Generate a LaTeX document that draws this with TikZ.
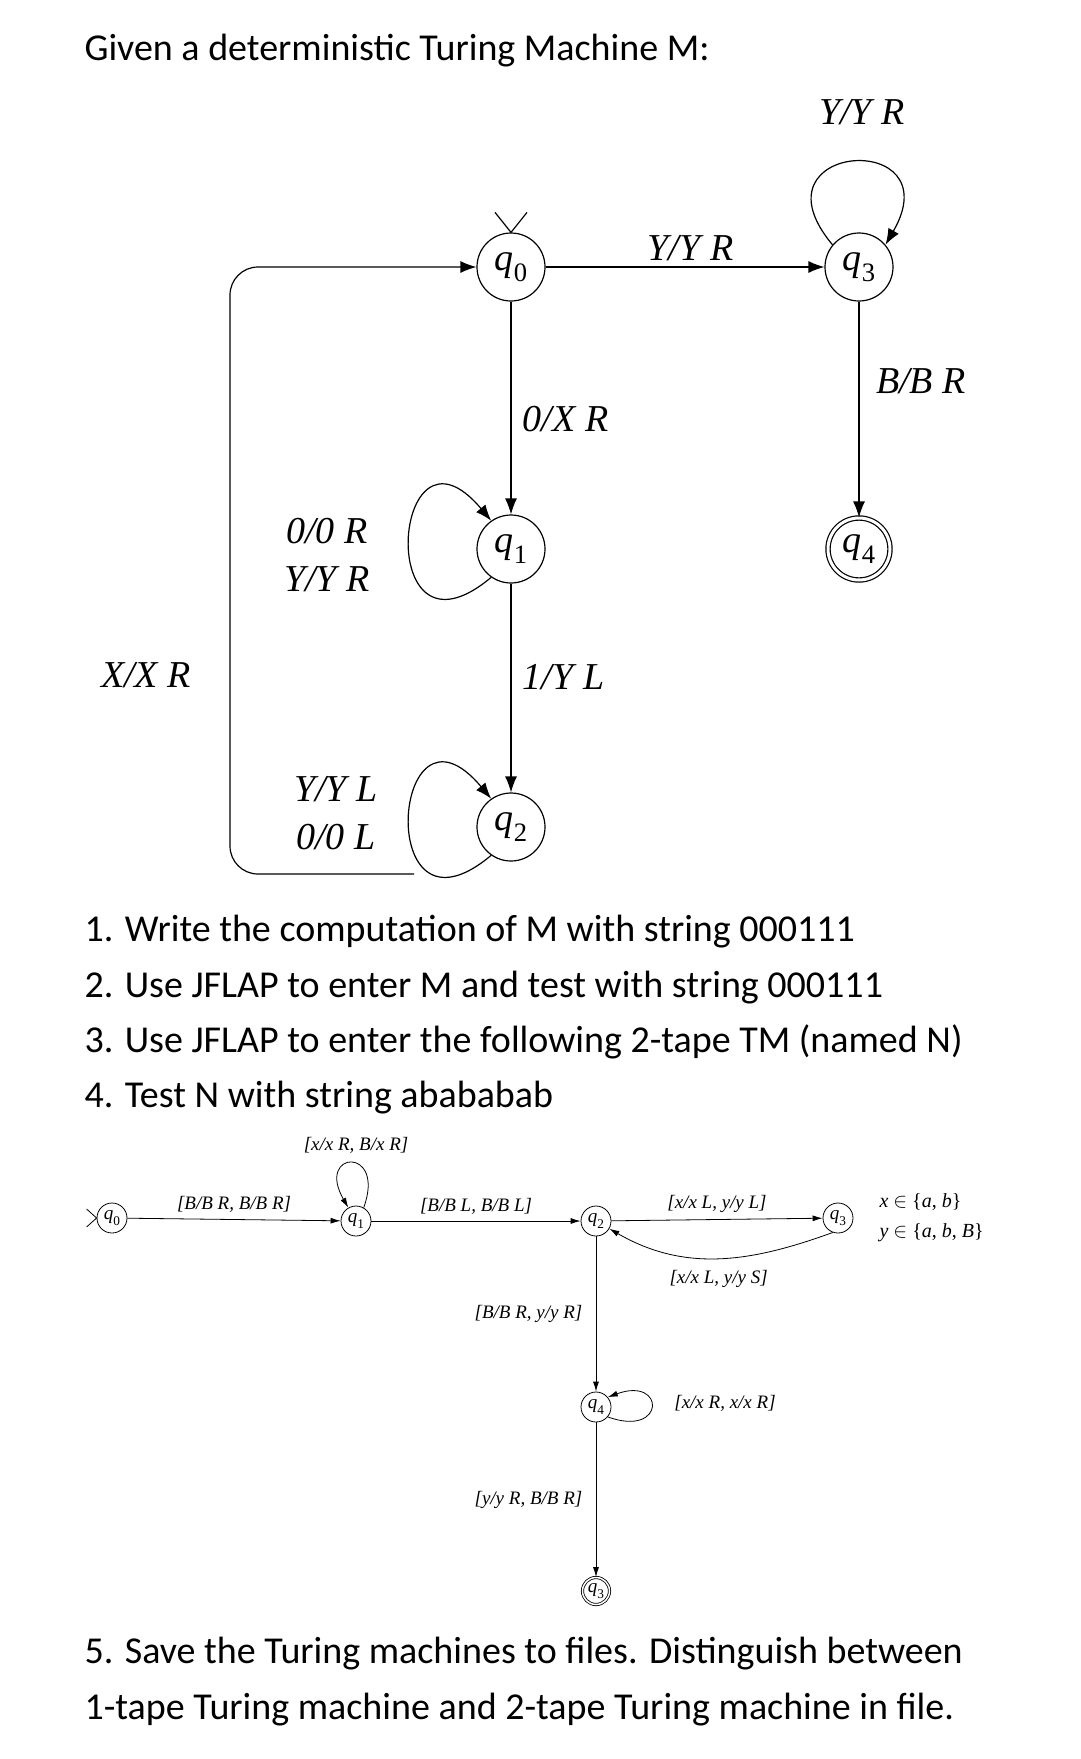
\documentclass[tikz,border=0pt]{standalone}
\usepackage{fontspec}
\setmainfont{Carlito}
\newfontfamily\labf{Liberation Serif}
\usetikzlibrary{arrows.meta,calc}
\newcommand{\qq}[1]{\textit{q}\raisebox{-0.3em}{\scalebox{0.7}{#1}}}
\begin{document}
\begin{tikzpicture}[x=1pt,y=-1pt,
  st/.style={circle,draw,line width=1.2pt,minimum size=68pt,inner sep=0pt,font=\labf\fontsize{38}{38}\selectfont},
  fs/.style={st,double,double distance=3pt,minimum size=62pt},
  sst/.style={circle,draw,line width=0.8pt,minimum size=30pt,inner sep=0pt,font=\labf\fontsize{19}{19}\selectfont},
  sfs/.style={sst,double,double distance=1.5pt,minimum size=27pt},
  ed/.style={line width=1.2pt,-{Latex[length=16pt,width=12pt]}},
  sed/.style={line width=0.8pt,-{Latex[length=10pt,width=6pt]}},
  lab/.style={font=\labf\itshape\fontsize{38}{42}\selectfont,align=left},
  slab/.style={font=\labf\itshape\fontsize{19}{19}\selectfont},
  txt/.style={anchor=base west,font=\fontsize{38}{42}\selectfont}]
\useasboundingbox (0,0) rectangle (1080,1759);
% texts
\node[txt] (t0) at (81,60) {Given a deterministic Turing Machine M:};
\node[txt] (t1) at (81,941) {1. Write the computation of M with string 000111};
\node[txt] (t2) at (81,997) {2. Use JFLAP to enter M and test with string 000111};
\node[txt] (t3) at (81,1052) {3. Use JFLAP to enter the following 2-tape TM (named N)};
\node[txt] (t4) at (81,1107) {4. Test N with string abababab};
\node[txt] (t5) at (81,1663) {5. Save the Turing machines to files. Distinguish between};
\node[txt] (t6) at (81,1719) {1-tape Turing machine and 2-tape Turing machine in file.};
% top TM
\node[st] (a0) at (511,267) {\qq{0}};
\node[st] (a1) at (511,549) {\qq{1}};
\node[st] (a2) at (511,827) {\qq{2}};
\node[st] (a3) at (859,267) {\qq{3}};
\node[fs] (a4) at (859,549) {\qq{4}};
\coordinate (s1) at ($(a0.north)+(-16,-20)$);
\coordinate (s2) at ($(a0.north)+(16,-20)$);
\draw[line width=1.2pt] (s1) -- (a0.north) -- (s2);
\draw[ed] (a0) -- node[lab,above=2pt,pos=0.52]{Y/Y R} (a3);
\draw[ed] (a0) -- node[lab,right=8pt,pos=0.55]{0/X R} (a1);
\draw[ed] (a1) -- node[lab,right=8pt,pos=0.45]{1/Y L} (a2);
\draw[ed] (a3) -- (a4);
\node[lab] (l34) at (921,381) {B/B R};
\draw[ed] (a3.140) to[out=130,in=60,looseness=6.5] (a3.40);
\node[lab] (l33) at (862,112) {Y/Y R};
\draw[ed] (a1.235) to[out=220,in=130,looseness=7] (a1.125);
\node[lab,align=center] (l11) at (327,555) {0/0 R\\[6pt]Y/Y R};
\draw[ed] (a2.235) to[out=220,in=130,looseness=7] (a2.125);
\node[lab,align=center] (l22) at (336,813) {Y/Y L\\[6pt]0/0 L};
\coordinate (c1) at (414,874);
\draw[ed,rounded corners=28pt] (c1) -- (230,874) -- (230,267) -- (a0.west);
\node[lab] (lx) at (146,675) {X/X R};
% bottom TM
\node[sst] (b0) at (112,1218) {\qq{0}};
\node[sst] (b1) at (356,1221) {\qq{1}};
\node[sst] (b2) at (596,1221) {\qq{2}};
\node[sst] (b3) at (838,1218) {\qq{3}};
\node[sst] (b4) at (596,1407) {\qq{4}};
\node[sfs] (b5) at (596,1591) {\qq{3}};
\draw[line width=0.8pt] ($(b0.west)+(-10,-9)$) -- (b0.west) -- ($(b0.west)+(-10,9)$);
\draw[sed] (b0) -- node[slab,above=3pt]{[B/B R, B/B R]} (b1);
\draw[sed] (b1) -- node[slab,above=3pt]{[B/B L, B/B L]} (b2);
\draw[sed] (b2) -- node[slab,above=3pt]{[x/x L, y/y L]} (b3);
\draw[sed] (b3.250) to[out=200,in=-30] node[slab,below=8pt]{[x/x L, y/y S]} (b2.-30);
\draw[sed] (b1.60) to[out=70,in=120,looseness=11] (b1.120);
\node[slab] (lb1) at (356,1145) {[x/x R, B/x R]};
\draw[sed] (b2) -- node[slab,left=10pt]{[B/B R, y/y R]} (b4);
\draw[sed] (b4.-40) to[out=-20,in=20,looseness=8] (b4.40);
\node[slab] (lb4) at (725,1403) {[x/x R, x/x R]};
\draw[sed] (b4) -- node[slab,left=10pt]{[y/y R, B/B R]} (b5);
\node[slab,anchor=west,align=left,font=\labf\fontsize{20}{30}\selectfont] (xy) at (876,1218) {\textit{x} $\in$ \{\textit{a}, \textit{b}\}\\\textit{y} $\in$ \{\textit{a}, \textit{b}, \textit{B}\}};
\end{tikzpicture}
\end{document}
